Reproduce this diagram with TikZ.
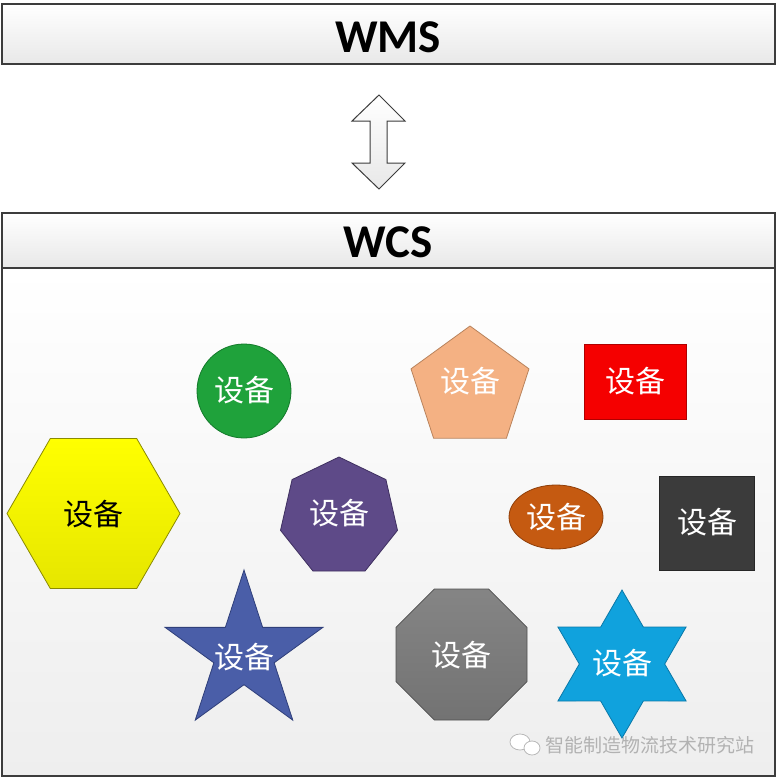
\documentclass[tikz,border=0pt]{standalone}
\usepackage{fontspec}
\setmainfont{Carlito}
\newfontfamily\cjk{Noto Sans CJK SC}
\usetikzlibrary{shapes.geometric}
\definecolor{boxline}{HTML}{3C3C3C}
\definecolor{hdrgray}{HTML}{E8E8E8}
\definecolor{bodygray}{HTML}{EEEEEE}
\definecolor{cgreen}{HTML}{1FA23B}
\definecolor{cgreenL}{HTML}{137A2A}
\definecolor{cpeach}{HTML}{F4B183}
\definecolor{cpeachL}{HTML}{B9835C}
\definecolor{cred}{HTML}{F50000}
\definecolor{credL}{HTML}{B00000}
\definecolor{cyel}{HTML}{FFFF00}
\definecolor{cyel2}{HTML}{E6E600}
\definecolor{cyelL}{HTML}{8A8A00}
\definecolor{cpurp}{HTML}{5E4A88}
\definecolor{cpurpL}{HTML}{3F3060}
\definecolor{corange}{HTML}{C55A11}
\definecolor{corangeL}{HTML}{8F3F0A}
\definecolor{cdark}{HTML}{3B3B3B}
\definecolor{cdarkL}{HTML}{262626}
\definecolor{cblue}{HTML}{4A5EA8}
\definecolor{cblueL}{HTML}{2F3F7A}
\definecolor{cgray}{HTML}{7A7A7A}
\definecolor{cgrayL}{HTML}{505050}
\definecolor{ccyan}{HTML}{10A2DD}
\definecolor{ccyanL}{HTML}{0A78A8}
\begin{document}
\begin{tikzpicture}[x=1pt,y=-1pt,
  hdrbox/.style={draw=boxline, line width=1.1pt, top color=white, bottom color=hdrgray},
  hdrtext/.style={font=\bfseries\fontsize{47}{50}\selectfont, inner sep=0pt, text=black},
  lbl/.style={font=\cjk\fontsize{30}{32}\selectfont, text=white, inner sep=0pt},
  shp/.style={line width=0.8pt}
]
\useasboundingbox (0,0) rectangle (778,779);
\fill[white] (0,0) rectangle (778,779);

% WMS header
\path[hdrbox] (2,4) rectangle (775,64);
\node[hdrtext] (wms) at (388,37) {WMS};

% double arrow
\path[draw=boxline, line width=1pt, top color=white, bottom color=hdrgray]
  (379,95) -- (405,121) -- (387,121) -- (387,163) -- (405,163) -- (379,189)
  -- (352,163) -- (370,163) -- (370,121) -- (352,121) -- cycle;

% WCS body and header
\path[draw=boxline, line width=1.1pt, top color=white, bottom color=bodygray] (2,268) rectangle (775,776);
\path[hdrbox] (2,213) rectangle (775,268);
\node[hdrtext] (wcs) at (388,242) {WCS};

% green circle
\draw[shp, draw=cgreenL, fill=cgreen] (244,391) circle (47);
\node[lbl] (d1) at (244,390) {设备};

% peach pentagon
\draw[shp, draw=cpeachL, fill=cpeach, shift={(470,388)}]
  (-90:62) -- (-18:62) -- (54:62) -- (126:62) -- (198:62) -- cycle;
\node[lbl] (d2) at (470,381) {设备};

% red square
\draw[shp, draw=credL, fill=cred] (584,344) rectangle (686,419);
\node[lbl] (d3) at (635,381) {设备};

% yellow hexagon
\draw[shp, draw=cyelL, top color=cyel, bottom color=cyel2, shift={(93.5,513.5)}]
  (0:86.5) -- (60:86.5) -- (120:86.5) -- (180:86.5) -- (240:86.5) -- (300:86.5) -- cycle;
\node[lbl, text=black] (d4) at (93,514) {设备};

% purple heptagon
\draw[shp, draw=cpurpL, fill=cpurp, shift={(339,517)}]
  (-90:60) -- (-38.571:60) -- (12.857:60) -- (64.286:60) -- (115.714:60)
  -- (167.143:60) -- (218.571:60) -- cycle;
\node[lbl] (d5) at (339,513) {设备};

% orange ellipse
\draw[shp, draw=corangeL, fill=corange] (556,517) ellipse [x radius=47, y radius=32];
\node[lbl] (d6) at (556,517) {设备};

% dark square
\draw[shp, draw=cdarkL, fill=cdark] (659,476) rectangle (754,570);
\node[lbl] (d7) at (707,522) {设备};

% blue five-pointed star
\draw[shp, draw=cblueL, fill=cblue, shift={(244,653)}]
  (-90:83) -- (-54:31.7) -- (-18:83) -- (18:31.7) -- (54:83) -- (90:31.7)
  -- (126:83) -- (162:31.7) -- (198:83) -- (234:31.7) -- cycle;
\node[lbl] (d8) at (244,657) {设备};

% gray octagon
\draw[shp, draw=cgrayL, top color=cgray!92!white, bottom color=cgray!94!black, shift={(461.5,654.5)}]
  (22.5:70.9) -- (67.5:70.9) -- (112.5:70.9) -- (157.5:70.9) -- (202.5:70.9)
  -- (247.5:70.9) -- (292.5:70.9) -- (337.5:70.9) -- cycle;
\node[lbl] (d9) at (461,655) {设备};

% cyan six-pointed star
\draw[shp, draw=ccyanL, fill=ccyan, shift={(622,664)}]
  (-90:74) -- (-60:42.7) -- (-30:74) -- (0:42.7) -- (30:74) -- (60:42.7)
  -- (90:74) -- (120:42.7) -- (150:74) -- (180:42.7) -- (210:74) -- (240:42.7) -- cycle;
\node[lbl] (d10) at (622,663) {设备};

% watermark
\draw[gray!55, fill=white, line width=0.8pt] (520,742) ellipse [x radius=10, y radius=8];
\draw[gray!55, fill=white, line width=0.8pt] (532,748) ellipse [x radius=8, y radius=7];
\node[font=\cjk\fontsize{19}{21}\selectfont, text=gray!60, inner sep=0pt, anchor=west] (wm) at (545,745) {智能制造物流技术研究站};
\end{tikzpicture}
\end{document}
